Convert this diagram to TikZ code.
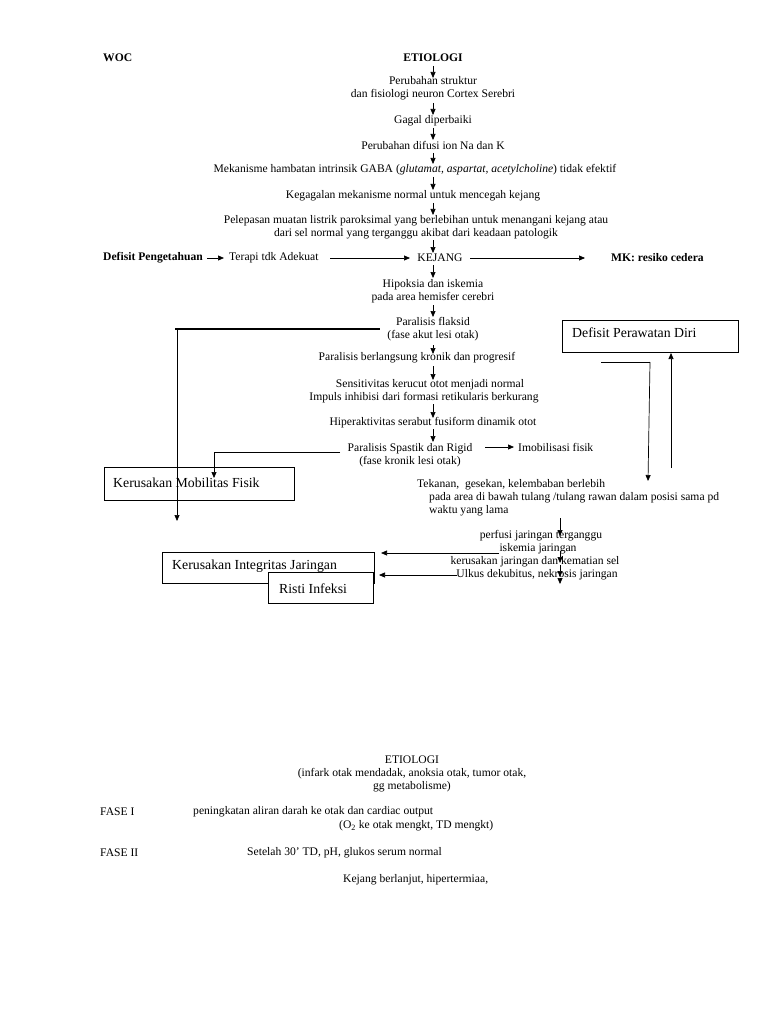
\documentclass[tikz,border=0pt]{standalone}
\usepackage{fontspec}
\setmainfont{Liberation Serif}
\usetikzlibrary{arrows.meta}
\begin{document}
\begin{tikzpicture}[x=1pt,y=-1pt,
  t/.style={inner sep=1pt,font=\fontsize{11.6}{13.2}\selectfont,align=center},
  tl/.style={t,anchor=west,align=left},
  bf/.style={font=\fontsize{11.6}{13.2}\selectfont\bfseries},
  bt/.style={anchor=west,font=\fontsize{13.8}{15}\selectfont,inner sep=0pt},
  bx/.style={draw,fill=white,line width=0.6pt,anchor=north west,inner sep=0pt},
  ar/.style={-{Triangle[length=6pt,width=5pt]},line width=0.7pt},
  ln/.style={line width=0.7pt}]
\useasboundingbox (0,0) rectangle (768,1024);
\node[tl,bf] (woc) at (102,58) {WOC};
\node[t,bf] (et) at (433,58) {ETIOLOGI};
\node[t] (n1) at (433,88) {Perubahan struktur\\dan fisiologi neuron Cortex Serebri};
\node[t] (n2) at (433,121) {Gagal diperbaiki};
\node[t] (n3) at (433,145) {Perubahan difusi ion Na dan K};
\node[t] (n4) at (415,170) {Mekanisme hambatan intrinsik GABA (\textit{glutamat, aspartat, acetylcholine}) tidak efektif};
\node[t] (n5) at (413,196) {Kegagalan mekanisme normal untuk mencegah kejang};
\node[t] (n6) at (416,227) {Pelepasan muatan listrik paroksimal yang berlebihan untuk menangani kejang atau\\dari sel normal yang terganggu akibat dari keadaan patologik};
\node[t] (kj) at (440,258) {KEJANG};
\node[tl,bf] (dp) at (102,258) {Defisit Pengetahuan};
\node[tl] (ta) at (228,258) {Terapi tdk Adekuat};
\node[tl,bf] (mk) at (610,258) {MK: resiko cedera};
\node[t] (n7) at (433,291) {Hipoksia dan iskemia\\pada area hemisfer cerebri};
\node[t] (n8) at (433,329) {Paralisis flaksid\\(fase akut lesi otak)};
\node[t] (n9) at (417,358) {Paralisis berlangsung kronik dan progresif};
\node[t] (n10) at (424,391) {\hspace*{12pt}Sensitivitas kerucut otot menjadi normal\\Impuls inhibisi dari formasi retikularis berkurang};
\node[t] (n11) at (433,423) {Hiperaktivitas serabut fusiform dinamik otot};
\node[t] (n12) at (410,455) {Paralisis Spastik dan Rigid\\(fase kronik lesi otak)};
\node[tl] (im) at (517,447) {Imobilisasi fisik};
\node[tl] (tk) at (416,498) {Tekanan,\ \ gesekan, kelembaban berlebih\\\hspace*{12pt}pada area di bawah tulang /tulang rawan dalam posisi sama pd\\\hspace*{12pt}waktu yang lama};
\node[t] (p1) at (541,536) {perfusi jaringan terganggu};
\node[t] (p2) at (538,549) {iskemia jaringan};
\node[t] (p3) at (535,562) {kerusakan jaringan dan kematian sel};
\node[t] (p4) at (537,575) {Ulkus dekubitus, nekrosis jaringan};
% boxes
\node[bx,minimum width=176pt,minimum height=32pt] (dpd) at (562,320) {};
\node[bt] (dpdt) at (572,333) {Defisit Perawatan Diri};
\node[bx,minimum width=190pt,minimum height=33pt] (kmf) at (104,467) {};
\node[bt] (kmft) at (113,483) {Kerusakan Mobilitas Fisik};
\node[bx,minimum width=212pt,minimum height=31pt] (kij) at (162,552) {};
\node[bt] (kijt) at (172,566) {Kerusakan Integritas Jaringan};
\node[bx,minimum width=105pt,minimum height=31pt] (ri) at (268,572) {};
\node[bt] (rit) at (279,589) {Risti Infeksi};
% central arrows
\draw[ar] (433,66) -- (433,78);
\draw[ar] (433,103) -- (433,115);
\draw[ar] (433,128) -- (433,140);
\draw[ar] (433,153) -- (433,164);
\draw[ar] (433,177) -- (433,190);
\draw[ar] (433,203) -- (433,215);
\draw[ar] (433,240) -- (433,253);
\draw[ar] (433,265) -- (433,278);
\draw[ar] (433,305) -- (433,317);
\draw[ar] (433,345) -- (433,354);
\draw[ar] (433,366) -- (433,380);
\draw[ar] (433,404) -- (433,418);
\draw[ar] (433,429) -- (433,442);
% KEJANG row
\draw[ar] (207,258) -- (224,258);
\draw[ar] (330,258) -- (410,258);
\draw[ar] (470,258) -- (585,258);
\draw[ar] (485,447) -- (514,447);
% left lines
\draw[line width=1.3pt] (175,329) -- (380,329);
\draw[ar] (177,329) -- (177,521);
\draw[ln] (340,452) -- (214,452);
\draw[ar] (214,452) -- (214,478);
% right lines
\draw[ln] (601,362) -- (650,362);
\draw[ar] (650,362) -- (648,481);
\draw[ar] (671,468) -- (671,353);
% lower
\draw[ar] (560,518) -- (560,536);
\draw[ar] (560,551) -- (560,563);
\draw[ar] (560,565) -- (560,577);
\draw[ar] (560,578) -- (560,584);
\draw[ln] (499,553) -- (420,553);
\draw[ar] (420,553) -- (381,553);
\draw[ar] (457,575) -- (379,575);
% bottom text
\node[t] (e2) at (412,774) {ETIOLOGI\\(infark otak mendadak, anoksia otak, tumor otak,\\gg metabolisme)};
\node[tl] (f1) at (99,812) {FASE I};
\node[tl] (f1t) at (192,812) {peningkatan aliran darah ke otak dan cardiac output};
\node[tl] (f1u) at (338,826) {(O\textsubscript{2} ke otak mengkt, TD mengkt)};
\node[tl] (f2) at (99,853) {FASE II};
\node[tl] (f2t) at (246,853) {Setelah 30' TD, pH, glukos serum normal};
\node[tl] (f3) at (342,880) {Kejang berlanjut, hipertermiaa,};
\end{tikzpicture}
\end{document}
